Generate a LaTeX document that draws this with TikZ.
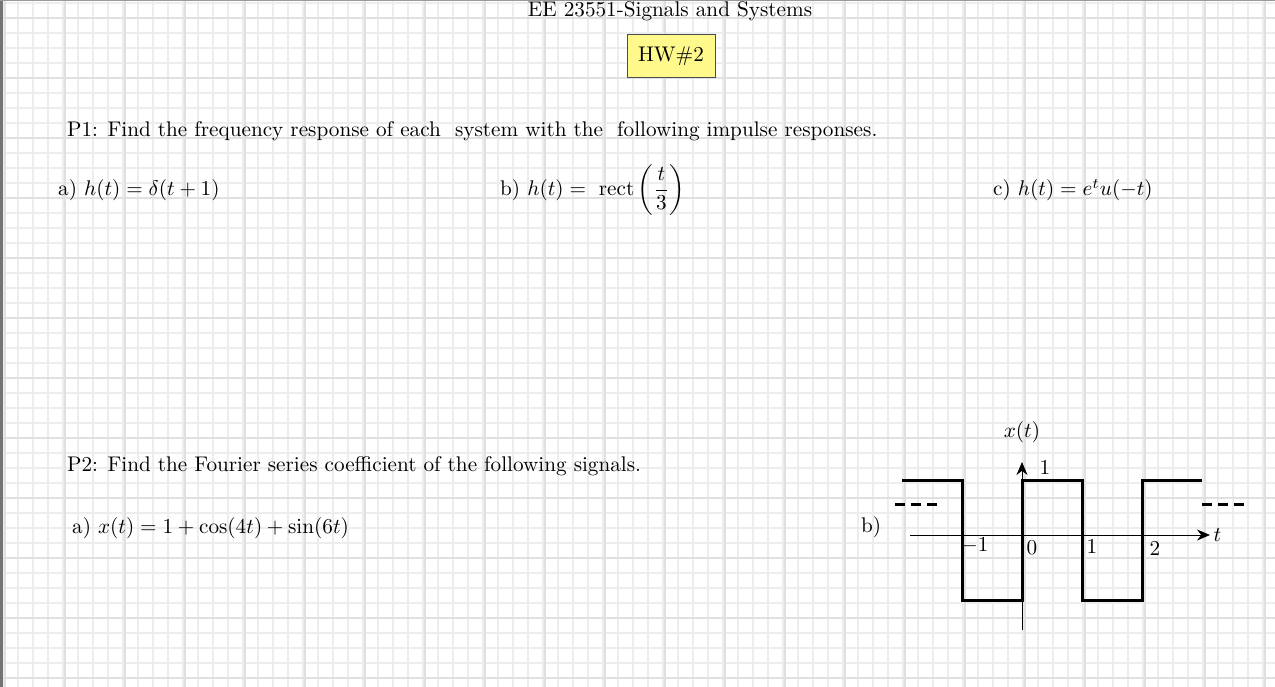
\documentclass[tikz,border=0pt]{standalone}
\usepackage{amsmath}
\usetikzlibrary{arrows.meta}
\newcommand\bgt[1]{\scalebox{2.12}{#1}}
\begin{document}
\begin{tikzpicture}[x=1pt,y=-1pt,
  sig/.style={line width=3pt},
  txt/.style={anchor=west,inner sep=0pt}]
\useasboundingbox (0,0) rectangle (1275,687);
\fill[white] (0,0) rectangle (1275,687);
\foreach \x in {3,18,...,1275} \draw[black!7,line width=1.2pt] (\x,0) -- (\x,687);
\foreach \y in {3,18,...,687} \draw[black!7,line width=1.2pt] (0,\y) -- (1275,\y);
\foreach \x in {5,65,...,1275} \draw[black!12,line width=1.5pt] (\x,0) -- (\x,687);
\foreach \y in {18,78,...,687} \draw[black!12,line width=1.5pt] (0,\y) -- (1275,\y);
\fill[black!55] (0,0) rectangle (3,687);
\draw[black!40,line width=1pt] (0,0.5) -- (1275,0.5);
\node (title) at (670,11) {\bgt{EE 23551-Signals and Systems}};
\node[draw=black!70,fill=yellow!45,minimum width=88,minimum height=43] (hw) at (671,56) {\bgt{HW\#2}};
\node[txt] (p1) at (67,131) {\bgt{P1: Find the frequency response of each\ \ system with the\ \ following impulse responses.}};
\node[txt] (p1a) at (58,190) {\bgt{a) $h(t)=\delta(t+1)$}};
\node[txt] (p1b) at (500,190) {\bgt{b) $h(t)=\ \mathrm{rect}\left(\dfrac{t}{3}\right)$}};
\node[txt] (p1c) at (993,190) {\bgt{c) $h(t)=e^{t}u(-t)$}};
\node[txt] (p2) at (67,466) {\bgt{P2: Find the Fourier series coefficient of the following signals.}};
\node[txt] (p2a) at (72,528) {\bgt{a) $x(t)=1+\cos(4t)+\sin(6t)$}};
\node[txt] (p2b) at (861,527) {\bgt{b)}};
% signal
\coordinate (o) at (1022,535);
\coordinate (xs) at (910,535);
\coordinate (xe) at (1210,535);
\coordinate (ys) at (1022,630);
\coordinate (ye) at (1022,462);
\draw[-{Stealth[length=13pt,width=11pt]},line width=0.8pt] (xs) -- (xe);
\draw[-{Stealth[length=13pt,width=11pt]},line width=0.8pt] (ys) -- (ye);
\node[anchor=west] (tl) at (xe) {\bgt{$t$}};
\node (xl) at (1022,432) {\bgt{$x(t)$}};
\node (one) at (1045,467) {\bgt{1}};
\node (m1) at (975,546) {\bgt{$-1$}};
\node (z) at (1032,548) {\bgt{0}};
\node (p1t) at (1092,546) {\bgt{1}};
\node (p2t) at (1155,548) {\bgt{2}};
\draw[sig] (902,480) -- (962,480) -- (962,600) -- (1022,600) -- (1022,480) -- (1082,480) -- (1082,600) -- (1142,600) -- (1142,480) -- (1202,480);
\draw[sig,dash pattern=on 10pt off 6pt] (895,504) -- (942,504);
\draw[sig,dash pattern=on 10pt off 6pt] (1202,504) -- (1249,504);
\end{tikzpicture}
\end{document}
